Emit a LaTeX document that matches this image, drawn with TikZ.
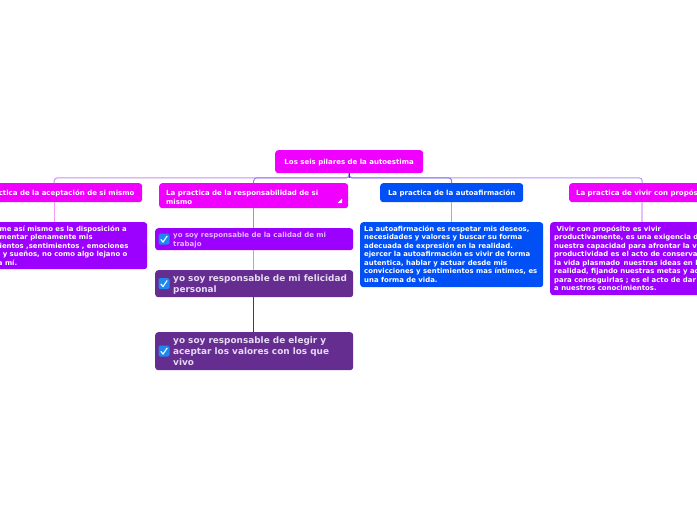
\documentclass[tikz,border=0pt]{standalone}
\usepackage{fontspec}
\usepackage{xcolor}
\setmainfont{DejaVu Sans}
\definecolor{pinkbox}{HTML}{F000FF}
\definecolor{violetbox}{HTML}{9C00FF}
\definecolor{bluebox}{HTML}{0050F5}
\definecolor{plumbox}{HTML}{662D91}
\definecolor{softtext}{HTML}{E3B8FF}
\definecolor{plumtext}{HTML}{E6DAF2}
\definecolor{checkblue}{HTML}{1E88F0}
\definecolor{linkpink}{HTML}{D08CF0}
\definecolor{linkviolet}{HTML}{A67CF2}
\definecolor{linkblue}{HTML}{7F7FF5}
\definecolor{linklilac}{HTML}{B794F6}
\tikzset{
  box/.style={draw=none, rounded corners=3pt, inner sep=0pt, text=white, align=left, anchor=north west, font=\bfseries\fontsize{6.9}{8.5}\selectfont},
  titlebox/.style={box, fill=pinkbox, minimum height=19pt, font=\bfseries\fontsize{7}{8.5}\selectfont, text height=7pt, text depth=1pt},
  notebox/.style={box, fill=violetbox},
  taskbox/.style={box, fill=plumbox},
  tasktext/.style={box, text=plumtext, font=\bfseries\fontsize{8.9}{11}\selectfont},
  link/.style={line width=1pt, rounded corners=3pt},
  checkmark/.style={draw=white, line width=1.1pt},
}
\newcommand{\tickbox}[1]{%
  \fill[checkblue, rounded corners=1.5pt] (#1) ++(-5.5,-5.5) rectangle ++(11,11);
  \draw[checkmark] (#1) ++(-3.2,0.4) -- ++(2.2,2.6) -- ++(4.2,-6);
}
\begin{document}
\begin{tikzpicture}[x=1pt, y=-1pt]
  \useasboundingbox (0,0) rectangle (697,520);
  \clip (0,0) rectangle (697,520);
  % root and the four branches
  \node[titlebox, minimum width=148pt, minimum height=23pt, align=center] (root) at (275,150) {Los seis pilares de la autoestima};
  \node[titlebox, minimum width=176pt, align=center] (acept) at (-34,183) {La practica de la aceptación de si mismo};
  \node[titlebox, minimum width=189pt, minimum height=25pt] (resp) at (159,183) {};
  \node[titlebox, fill=bluebox, minimum width=143pt, align=center] (afirm) at (380,183) {La practica de la autoafirmación};
  \node[titlebox, minimum width=146pt, align=center] (vivir) at (569,183) {La practica de vivir con propósito};
  % title of the second branch is cut by its box
  \begin{scope}
    \clip (159,183) rectangle (348,204);
    \node[box, font=\bfseries\fontsize{7}{9.2}\selectfont] (resptext) at (166,189.5) {La practica de la responsabilidad de si\\mismo};
  \end{scope}
  \fill[white] (342,198.5) -- (342,203) -- (337.5,203) -- cycle;
  % notes under the branches
  \node[notebox, minimum width=181pt, minimum height=47pt] (aceptnote) at (-34,222) {};
  \node[box] (acepttext) at (-31,225.5) {Aceptarme así mismo es la disposición a\\\hspace*{6pt}experimentar plenamente mis\\pensamientos ,sentimientos , emociones\\\hspace*{4pt}deseos y sueños, no como algo lejano o\\\hspace*{5pt}ajeno a mí.};
  \node[notebox, minimum width=198pt, minimum height=22pt] (calidad) at (155,228) {};
  \node[box, text=softtext, font=\bfseries\fontsize{7}{9}\selectfont] (calidadtext) at (173,232.3) {yo soy responsable de la calidad de mi\\trabajo};
  \node[taskbox, minimum width=198pt, minimum height=27pt] (felicidad) at (155,270) {};
  \node[tasktext] (felicidadtext) at (173,275) {yo soy responsable de mi felicidad\\personal};
  \node[taskbox, minimum width=198pt, minimum height=38pt] (valores) at (155,332) {};
  \node[tasktext] (valorestext) at (173,336.8) {yo soy responsable de elegir y\\aceptar los valores con los que\\vivo};
  \node[notebox, fill=bluebox, minimum width=183pt, minimum height=65pt] (afirmnote) at (360,222) {};
  \node[box] (afirmtext) at (364,225.5) {La autoafirmación es respetar mis deseos,\\necesidades y valores y buscar su forma\\adecuada de expresión en la realidad.\\ejercer la autoafirmación es vivir de forma\\autentica, hablar y actuar desde mis\\convicciones y sentimientos mas íntimos, es\\una forma de vida.};
  \node[notebox, minimum width=184pt, minimum height=73pt] (vivirnote) at (550,222) {};
  \node[box] (vivirtext) at (554,225.5) {\hspace*{2.5pt}Vivir con propósito es vivir\\productivamente, es una exigencia de\\nuestra capacidad para afrontar la vida. La\\productividad es el acto de conservar\\la vida plasmado\, nuestras ideas en la\\realidad, fijando nuestras metas y actuando\\para conseguirlas ; es el acto de dar vida\\a nuestros conocimientos.};
  % check boxes
  \tickbox{164,239}
  \tickbox{164,283.5}
  \tickbox{164,351}
  % connectors
  \draw[link, draw=linkpink] (root.south) -- ++(0,4.5) -| (acept.north);
  \draw[link, draw=linkviolet] (root.south) -- ++(0,4.5) -| (resp.north);
  \draw[link, draw=linklilac] (root.south) -- ++(0,4.5) -| (vivir.north);
  \draw[link, draw=linkblue] (root.south) -- ++(0,4.5) -| (afirm.north);
  \draw[link, draw=bluebox] (root.south) -- ++(0,4.5);
  \draw[link, draw=pinkbox!40] (acept.south) -- (acept.south |- aceptnote.north);
  \draw[link, draw=violetbox!55] (resp.south) -- (resp.south |- calidad.north);
  \draw[link, draw=bluebox!45] (resp.south |- calidad.south) -- (resp.south |- felicidad.north);
  \draw[link, draw=bluebox!85!black] (resp.south |- felicidad.south) -- (resp.south |- valores.north);
  \draw[link, draw=bluebox!45] (afirm.south) -- (afirm.south |- afirmnote.north);
  \draw[link, draw=violetbox!25, line width=1.5pt] (vivir.south) -- (vivir.south |- vivirnote.north);
\end{tikzpicture}
\end{document}
